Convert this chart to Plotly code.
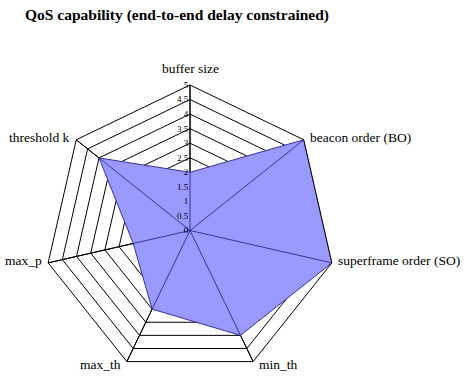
import math
import plotly.graph_objects as go

categories = ["buffer size", "beacon order (BO)", "superframe order (SO)",
              "min_th", "max_th", "max_p", "threshold k"]
values = [2, 5, 5, 4, 3, 2, 4]
radial_ticks = [0, 0.5, 1, 1.5, 2, 2.5, 3, 3.5, 4, 4.5, 5]
r_max = 5
title_text = "QoS capability (end-to-end delay constrained)"

W, H = 474, 376
cx, cy, R = 190, 230.5, 145.5

closed_r = values + values[:1]
closed_t = categories + categories[:1]

spoke_r, spoke_t = [], []
for c in categories:
    spoke_r += [0, r_max, None]
    spoke_t += [c, c, None]

fig = go.Figure()
fig.add_trace(go.Scatterpolar(
    r=closed_r, theta=closed_t, mode="lines", fill="toself",
    fillcolor="white", line=dict(color="white", width=0),
    hoverinfo="skip", showlegend=False))
fig.add_trace(go.Scatterpolar(
    r=spoke_r, theta=spoke_t, mode="lines", connectgaps=False,
    line=dict(color="black", width=1),
    hoverinfo="skip", showlegend=False))
fig.add_trace(go.Scatterpolar(
    r=closed_r, theta=closed_t, mode="lines", fill="toself",
    fillcolor="rgba(85,85,255,0.6)",
    line=dict(color="rgb(51,51,153)", width=1),
    hoverinfo="skip", showlegend=False))

# category labels placed beside the outer vertices
annotations = []
n = len(categories)
for i, c in enumerate(categories):
    ang = math.radians(90 - i * 360 / n)
    vx = cx + R * math.cos(ang)
    vy = cy - R * math.sin(ang)
    if abs(math.cos(ang)) < 0.05:
        xa, ya, px, py = "center", "bottom", 0, -7
    elif math.cos(ang) > 0:
        xa, ya, px, py = "left", "middle", 4, -2
    else:
        xa, ya, px, py = "right", "middle", -4, -2
    if vy > cy + 0.8 * R:
        py = 3
    annotations.append(dict(
        text=c, xref="paper", yref="paper",
        x=(vx + px) / W, y=1 - (vy + py) / H,
        xanchor=xa, yanchor=ya, showarrow=False,
        font=dict(size=13.5, family="Liberation Serif, serif", color="black")))

fig.update_layout(
    width=W, height=H,
    margin=dict(l=0, r=0, t=0, b=0),
    paper_bgcolor="white",
    font=dict(family="Liberation Serif, serif", color="black"),
    title=dict(text="<b>" + title_text + "</b>", x=25 / W, xanchor="left",
               y=1 - 15 / H, yanchor="middle",
               font=dict(size=15.5, family="Liberation Serif, serif", color="black")),
    annotations=annotations,
    polar=dict(
        domain=dict(x=[(cx - R) / W, (cx + R) / W],
                    y=[(H - cy - R) / H, (H - cy + R) / H]),
        bgcolor="white",
        gridshape="linear",
        radialaxis=dict(
            range=[0, r_max],
            tickvals=radial_ticks,
            ticktext=[("%g" % v) for v in radial_ticks],
            angle=90,
            tickangle=90,
            side="counterclockwise",
            showline=False,
            showgrid=True,
            gridcolor="black",
            gridwidth=1,
            ticks="",
            tickfont=dict(size=9, family="Liberation Serif, serif", color="black"),
        ),
        angularaxis=dict(
            rotation=90,
            direction="clockwise",
            showline=True,
            linecolor="black",
            linewidth=1,
            showgrid=True,
            gridcolor="black",
            gridwidth=1,
            ticks="",
            showticklabels=False,
        ),
    ),
)

fig.write_html("out.html", config={"displayModeBar": False},
               post_script="document.body.style.margin='0';document.body.style.overflow='hidden';")
